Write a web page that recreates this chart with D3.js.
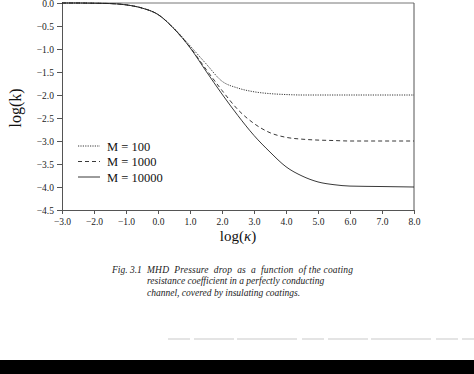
<!DOCTYPE html>
<html>
<head>
<meta charset="utf-8">
<script src="https://cdn.jsdelivr.net/npm/d3@7"></script>
<style>
  body { margin: 0; background: #fff; }
  svg { display: block; font-family: "Liberation Serif", "DejaVu Serif", serif; }
</style>
</head>
<body>
<div id="chart"></div>
<script>
// log(kappa) sample points
const logKappa = [-3, -2.5, -2, -1.5, -1, -0.5, 0, 0.5, 1, 1.5, 2, 2.5, 3, 3.5, 4, 4.5, 5, 5.5, 6, 7, 8];
const logK_M100   = [0, 0, -0.005, -0.012, -0.04, -0.11, -0.25, -0.55, -0.93, -1.32, -1.70, -1.85, -1.93, -1.97, -1.99, -2.0, -2.0, -2.0, -2.0, -2.0, -2.0];
const logK_M1000  = [0, 0, -0.005, -0.012, -0.04, -0.11, -0.25, -0.56, -0.96, -1.44, -1.90, -2.32, -2.62, -2.82, -2.92, -2.96, -2.98, -2.99, -3.0, -3.0, -3.0];
const logK_M10000 = [0, 0, -0.005, -0.012, -0.04, -0.11, -0.25, -0.56, -0.97, -1.48, -1.98, -2.45, -2.88, -3.24, -3.56, -3.76, -3.89, -3.95, -3.98, -3.99, -4.0];
const seriesNames = ["M = 100", "M = 1000", "M = 10000"];
const xTicks = [-3, -2, -1, 0, 1, 2, 3, 4, 5, 6, 7, 8];
const yTicks = [0, -0.5, -1, -1.5, -2, -2.5, -3, -3.5, -4, -4.5];
const caption = [
  "MHD  Pressure  drop  as  a  function  of the coating",
  "resistance coefficient in a perfectly conducting",
  "channel, covered by insulating coatings."
];

const W = 474, H = 374;
const margin = {top: 3, left: 62, right: 60, bottom: 164};
const width = W - margin.left - margin.right;
const height = H - margin.top - margin.bottom;

const svg = d3.select('#chart').append('svg')
  .attr('width', W)
  .attr('height', H);

const chart = svg.append('g')
  .attr('transform', `translate(${margin.left},${margin.top})`);

const xScale = d3.scaleLinear().domain([-3, 8]).range([0, width]);
const yScale = d3.scaleLinear().domain([-4.5, 0]).range([height, 0]);

const fmt = v => d3.format(".1f")(v).replace("-", "\u2212");

// axes
const xAxis = d3.axisBottom(xScale).tickValues(xTicks).tickSize(4).tickSizeOuter(0).tickFormat(fmt);
const yAxis = d3.axisLeft(yScale).tickValues(yTicks).tickSize(5).tickSizeOuter(0).tickFormat(fmt);

const xg = chart.append('g')
  .attr('transform', `translate(0,${height})`)
  .call(xAxis);
xg.selectAll('text').attr('dy', '0.85em');

const yg = chart.append('g').call(yAxis);
yg.selectAll('text').attr('x', -8);

[xg, yg].forEach(g => {
  g.attr('font-family', '"Liberation Serif", "DejaVu Serif", serif')
    .attr('font-size', 9.5);
  g.selectAll('text').attr('fill', '#222');
  g.select('.domain').attr('stroke', '#555');
  g.selectAll('.tick line').attr('stroke', '#555');
});

// box
chart.append('line').attr('x1', 0).attr('x2', width).attr('y1', 0).attr('y2', 0)
  .attr('stroke', '#777');
chart.append('line').attr('x1', width).attr('x2', width).attr('y1', 0).attr('y2', height)
  .attr('stroke', '#555');

// curves
const series = [logK_M100, logK_M1000, logK_M10000];
const dashes = ["1.2,1.2", "4,3", null];

const line = d3.line()
  .x((d, i) => xScale(logKappa[i]))
  .y(d => yScale(d))
  .curve(d3.curveMonotoneX);

series.forEach((s, i) => {
  chart.append('path')
    .datum(s)
    .attr('fill', 'none')
    .attr('stroke', '#222')
    .attr('stroke-width', 0.9)
    .attr('stroke-dasharray', dashes[i])
    .attr('d', line);
});

// legend
const legend = svg.append('g').attr('transform', 'translate(78,146)');
seriesNames.forEach((name, i) => {
  const row = legend.append('g').attr('transform', `translate(0,${i * 15.5})`);
  row.append('line')
    .attr('x1', 0).attr('x2', 22)
    .attr('stroke', '#222')
    .attr('stroke-width', 0.9)
    .attr('stroke-dasharray', dashes[i]);
  row.append('text')
    .attr('x', 29).attr('y', 4.5)
    .attr('font-size', 12.5)
    .attr('fill', '#111')
    .text(name);
});

// axis labels
svg.append('text')
  .attr('transform', 'translate(21,108) rotate(-90)')
  .attr('text-anchor', 'middle')
  .attr('font-size', 16)
  .attr('fill', '#111')
  .text('log(k)');

const xl = svg.append('text')
  .attr('x', 238).attr('y', 241)
  .attr('text-anchor', 'middle')
  .attr('font-size', 15)
  .attr('fill', '#111');
xl.append('tspan').text('log(');
xl.append('tspan').attr('font-style', 'italic').text('\u03ba');
xl.append('tspan').text(')');

// caption
svg.append('text')
  .attr('x', 112).attr('y', 273)
  .attr('font-size', 9.5)
  .attr('font-style', 'italic')
  .attr('fill', '#222')
  .text('Fig. 3.1');

caption.forEach((t, i) => {
  const txt = svg.append('text')
    .attr('x', 147).attr('y', 273 + i * 11.3)
    .attr('font-size', 9.5)
    .attr('font-style', 'italic')
    .attr('fill', '#222')
    .style('white-space', 'pre')
    .text(t);
  if (i === 0) txt.attr('textLength', 206).attr('lengthAdjust', 'spacing');
});

// faint scan line and bottom black band
svg.append('line')
  .attr('x1', 168).attr('x2', W).attr('y1', 339).attr('y2', 339)
  .attr('stroke', '#bbb')
  .attr('stroke-width', 0.8)
  .attr('stroke-dasharray', '22,4,40,3,60,5');
svg.append('rect')
  .attr('x', 0).attr('y', 360).attr('width', W).attr('height', H - 360)
  .attr('fill', '#000');
</script>
</body>
</html>
